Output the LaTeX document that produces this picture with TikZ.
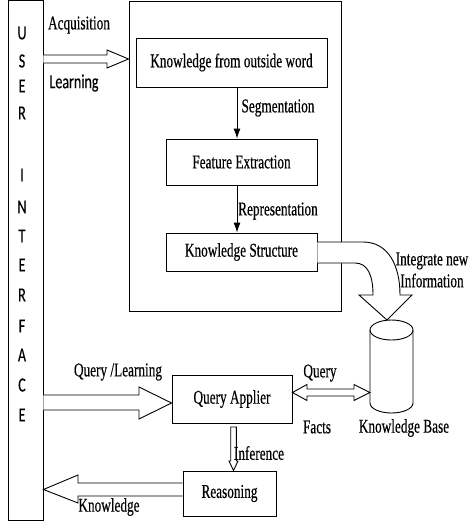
\documentclass[tikz,border=0pt]{standalone}
\usepackage{fontspec}
\setmainfont{Liberation Serif}
\newfontfamily\ser[FakeStretch=0.68,FakeBold=0.4]{Liberation Serif}
\newfontfamily\san[FakeStretch=0.70,FakeBold=0.3]{Carlito}
\usetikzlibrary{arrows.meta,calc}
\tikzset{
  txt/.style={font=\ser\fontsize{19.5}{22}\selectfont, inner sep=0pt},
  stxt/.style={font=\san\fontsize{20}{22}\selectfont, inner sep=0pt},
  box/.style={draw, line width=0.9pt, txt},
  frame/.style={draw, line width=0.9pt, inner sep=0pt},
  hol/.style={draw, line width=0.9pt, line join=miter, fill=white},
  sarrow/.style={line width=0.9pt, -{Latex[length=10pt,width=7pt]}},
}
\begin{document}
\begin{tikzpicture}[x=1pt,y=1pt]
\useasboundingbox (0,0) rectangle (474,-530);
% user interface bar
\node[frame, minimum width=35pt, minimum height=520pt] (ui) at (25.5,-260.5) {};
\foreach \l/\yy [count=\i] in {U/33,S/61,E/86,R/113,I/175,N/207,T/236,E/265,R/295,F/326,A/355,C/385,E/415}
  \node[stxt] (ui\i) at (22,-\yy) {\l};
% acquisition frame
\node[frame, minimum width=212pt, minimum height=310pt] (big) at (235,-156) {};
\node[box, minimum width=191pt, minimum height=49pt] (kow) at (231.5,-62.5) {Knowledge from outside word};
\node[box, minimum width=151pt, minimum height=46pt] (fe) at (241.5,-162) {Feature Extraction\hspace{10pt}};
\node[box, minimum width=151pt, minimum height=38pt] (ks) at (241.5,-252) {Knowledge Structure\hspace{14pt}};
\draw[sarrow] (kow.south -| 237,0) -- (fe.north -| 237,0);
\draw[sarrow] (fe.south -| 237,0) -- (ks.north -| 237,0);
\node[txt] (lseg) at (278,-108) {Segmentation};
\node[txt] (lrep) at (278,-211) {Representation};
% acquisition / learning arrow
\draw[hol] (ui.east |- 0,-55) -- (107,-55) -- (107,-50) -- (big.west |- 0,-59) -- (107,-68) -- (107,-63) -- (ui.east |- 0,-63);
\node[txt] (lacq) at (79,-25) {Acquisition};
\node[stxt] (llearn) at (74,-83) {Learning};
% knowledge base
\node[inner sep=0pt, minimum width=43pt, minimum height=94pt] (kb) at (391.5,-366) {};
\draw[line width=0.9pt] (391.5,-330) ellipse [x radius=21.5pt, y radius=10pt];
\draw[line width=0.9pt] (370,-330) -- (370,-403) arc[start angle=180, end angle=360, x radius=21.5pt, y radius=10pt] -- (413,-330);
\node[txt] (lkb) at (404,-428) {Knowledge Base};
% integrate arrow
\draw[hol] (ks.east |- 0,-242) -- (363,-242) .. controls (388,-242) and (400,-265) .. (400,-295)
  -- (412,-295) -- (387,-320) -- (359,-295) -- (373,-295)
  .. controls (373,-276) and (368,-263) .. (355,-263) -- (ks.east |- 0,-263);
\node[txt, align=center] (lint) at (432,-270) {Integrate new\\Information};
% query applier and reasoning
\node[box, minimum width=120pt, minimum height=48pt] (qa) at (232,-399) {Query Applier};
\node[box, minimum width=93pt, minimum height=45pt] (rs) at (229.5,-493.5) {Reasoning\hspace{14pt}};
% query / learning arrow
\draw[hol] (ui.east |- 0,-395) -- (139,-395) -- (139,-387) -- (qa.west |- 0,-403) -- (139,-419) -- (139,-410) -- (ui.east |- 0,-410);
\node[txt] (lql) at (118,-372) {Query /Learning};
% knowledge arrow
\draw[hol] (rs.west |- 0,-483) -- (78,-483) -- (78,-475) -- (ui.east |- 0,-489.5) -- (78,-503) -- (78,-496) -- (rs.west |- 0,-496);
\node[txt] (lkn) at (109,-507) {Knowledge};
% query / facts double arrow
\draw[hol] (qa.east |- 0,-392.5) -- (307,-384.5) -- (307,-389) -- (354,-389) -- (354,-384.5) -- (kb.west |- 0,-392.5)
  -- (354,-400.5) -- (354,-396) -- (307,-396) -- (307,-400.5) -- cycle;
\node[txt] (lq) at (320,-373) {Query};
\node[txt] (lf) at (317,-427) {Facts};
% inference arrow
\draw[hol] (230.7,-427) -- (236.3,-427) -- (236.3,-461) -- (238,-461) -- (rs.north -| 233.5,0) -- (229,-461) -- (230.7,-461) -- cycle;
\node[txt] (linf) at (259,-453) {Inference};
\end{tikzpicture}
\end{document}
